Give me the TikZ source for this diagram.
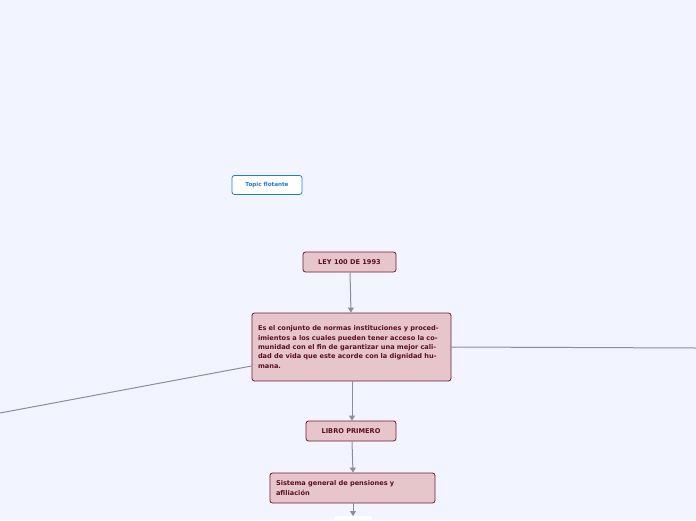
\documentclass[tikz,border=0pt]{standalone}
\usepackage{fontspec}
\setmainfont{DejaVu Sans}
\usetikzlibrary{arrows.meta}
\definecolor{bg}{HTML}{F2F5FF}
\definecolor{pfill}{HTML}{E7C6CB}
\definecolor{pborder}{HTML}{6E1A30}
\definecolor{ptext}{HTML}{5A0F22}
\definecolor{conn}{HTML}{8A8E96}
\definecolor{blue1}{HTML}{1E7AD8}
\tikzset{
  topicbox/.style={draw=pborder, fill=pfill, rounded corners=2.5pt, line width=0.8pt, text=ptext,
     font=\fontsize{6.6}{9.3}\selectfont\bfseries, inner xsep=6pt, inner ysep=4pt, align=left},
  floatbox/.style={draw=blue1, fill=white, rounded corners=2.5pt, line width=0.8pt, text=blue1,
     font=\fontsize{5.6}{7}\selectfont\bfseries, minimum width=70pt, minimum height=19pt},
  conn/.style={draw=conn, line width=1pt, -{Triangle[length=5pt,width=6pt]}},
  plain/.style={draw=conn, line width=1pt}
}
\begin{document}
\begin{tikzpicture}[x=1pt,y=-1pt]
\fill[bg] (0,0) rectangle (696,520);
\useasboundingbox (0,0) rectangle (696,520);
\node[floatbox] (flt) at (267,185) {Topic flotante};
\node[topicbox, minimum width=93pt, minimum height=20pt, align=center] (ley) at (349.5,262) {LEY 100 DE 1993};
\node[topicbox, minimum width=199pt, minimum height=68pt, text width=187pt] (main) at (351.5,347) {Es el conjunto de normas instituciones y procedimientos a los cuales pueden tener acceso la comunidad con el fin de garantizar una mejor calidad de vida que este acorde con la dignidad humana.};
\node[topicbox, minimum width=90pt, minimum height=20pt, align=center] (libro) at (351,431) {LIBRO PRIMERO};
\node[topicbox, minimum width=165pt, minimum height=30pt, text width=153pt] (sis) at (352.5,488) {Sistema general de pensiones y\\afiliación};
\node[fill=white, rounded corners=2.5pt, minimum width=38pt, minimum height=12pt, anchor=north] (next) at (353,516) {};
\coordinate (lft) at (0,413);
\coordinate (rgt) at (696,348);
\draw[conn] (ley.south -| 350,0) -- (main.north -| 351,0);
\draw[conn] (main.south -| 352,0) -- (libro.north -| 352,0);
\draw[conn] (libro.south -| 352,0) -- (sis.north -| 353,0);
\draw[conn] (sis.south -| 353,0) -- (next.north -| 353,0);
\draw[plain] (main.west |- 0,366) -- (lft);
\draw[plain] (main.east) -- (rgt);
\end{tikzpicture}
\end{document}
